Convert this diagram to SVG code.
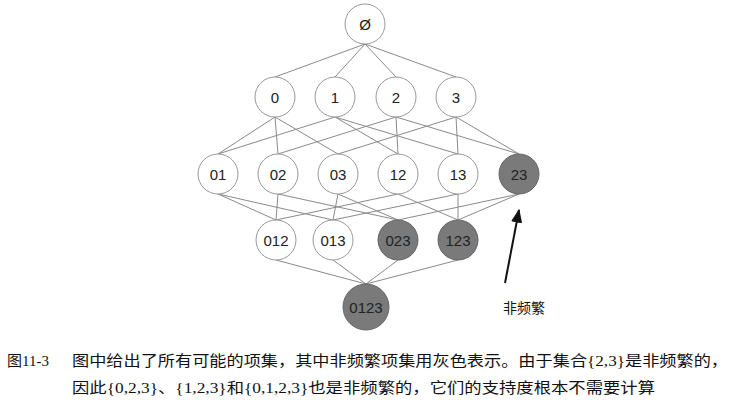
<svg xmlns="http://www.w3.org/2000/svg" width="737" height="414" viewBox="0 0 737 414">
<defs>
<style>
.n circle{fill:#fff;stroke:#999;stroke-width:1}
.g circle{fill:#7a7a7a;stroke:#666;stroke-width:1}
text.l{font-family:"Liberation Sans",Arial,sans-serif;font-size:15px;fill:#222;text-anchor:middle;dominant-baseline:central}
.e line{stroke:#8a8a8a;stroke-width:1}
.c{font-family:"Liberation Serif","Noto Sans CJK SC",serif;font-size:15px;fill:#111}
</style>
<marker id="ah" viewBox="0 0 10 10" refX="9" refY="5" markerWidth="7" markerHeight="7" orient="auto"><path d="M0,1 L10,5 L0,9 z" fill="#111"/></marker>
</defs>
<rect width="737" height="414" fill="#fff"/>
<g id="connectors" class="e">
<line x1="365" y1="44" x2="275" y2="77"/><line x1="365" y1="44" x2="335" y2="77"/><line x1="365" y1="44" x2="396" y2="77"/><line x1="365" y1="44" x2="456" y2="77"/>
<line x1="275" y1="117" x2="218" y2="154"/><line x1="275" y1="117" x2="278" y2="154"/><line x1="275" y1="117" x2="338" y2="154"/>
<line x1="335" y1="117" x2="218" y2="154"/><line x1="335" y1="117" x2="398" y2="154"/><line x1="335" y1="117" x2="458" y2="154"/>
<line x1="396" y1="117" x2="278" y2="154"/><line x1="396" y1="117" x2="398" y2="154"/><line x1="396" y1="117" x2="519" y2="154"/>
<line x1="456" y1="117" x2="338" y2="154"/><line x1="456" y1="117" x2="458" y2="154"/><line x1="456" y1="117" x2="519" y2="154"/>
<line x1="218" y1="194" x2="276" y2="220"/><line x1="278" y1="194" x2="276" y2="220"/><line x1="398" y1="194" x2="276" y2="220"/>
<line x1="218" y1="194" x2="333" y2="220"/><line x1="338" y1="194" x2="333" y2="220"/><line x1="458" y1="194" x2="333" y2="220"/>
<line x1="278" y1="194" x2="398" y2="220"/><line x1="338" y1="194" x2="398" y2="220"/><line x1="519" y1="194" x2="398" y2="220"/>
<line x1="398" y1="194" x2="458" y2="220"/><line x1="458" y1="194" x2="458" y2="220"/><line x1="519" y1="194" x2="458" y2="220"/>
<line x1="276" y1="260" x2="366" y2="284"/><line x1="333" y1="260" x2="366" y2="284"/><line x1="398" y1="260" x2="366" y2="284"/><line x1="458" y1="260" x2="366" y2="284"/>
<line x1="505" y1="283" x2="519" y2="210" style="stroke:#111;stroke-width:2" marker-end="url(#ah)"/>
</g>
<g id="n-empty" class="n"><circle cx="365" cy="24" r="20"/><text class="l" x="365" y="24">Ø</text></g>
<g id="n-0" class="n"><circle cx="275" cy="97" r="20"/><text class="l" x="275" y="97">0</text></g>
<g id="n-1" class="n"><circle cx="335" cy="97" r="20"/><text class="l" x="335" y="97">1</text></g>
<g id="n-2" class="n"><circle cx="396" cy="97" r="20"/><text class="l" x="396" y="97">2</text></g>
<g id="n-3" class="n"><circle cx="456" cy="97" r="20"/><text class="l" x="456" y="97">3</text></g>
<g id="n-01" class="n"><circle cx="218" cy="174" r="20"/><text class="l" x="218" y="174">01</text></g>
<g id="n-02" class="n"><circle cx="278" cy="174" r="20"/><text class="l" x="278" y="174">02</text></g>
<g id="n-03" class="n"><circle cx="338" cy="174" r="20"/><text class="l" x="338" y="174">03</text></g>
<g id="n-12" class="n"><circle cx="398" cy="174" r="20"/><text class="l" x="398" y="174">12</text></g>
<g id="n-13" class="n"><circle cx="458" cy="174" r="20"/><text class="l" x="458" y="174">13</text></g>
<g id="n-23" class="g"><circle cx="519" cy="174" r="20"/><text class="l" x="519" y="174">23</text></g>
<g id="n-012" class="n"><circle cx="276" cy="240" r="20"/><text class="l" x="276" y="240">012</text></g>
<g id="n-013" class="n"><circle cx="333" cy="240" r="20"/><text class="l" x="333" y="240">013</text></g>
<g id="n-023" class="g"><circle cx="398" cy="240" r="20"/><text class="l" x="398" y="240">023</text></g>
<g id="n-123" class="g"><circle cx="458" cy="240" r="20"/><text class="l" x="458" y="240">123</text></g>
<g id="n-0123" class="g"><circle cx="366" cy="307" r="23"/><text class="l" x="366" y="307">0123</text></g>
<text class="c" x="503" y="313" style="font-size:14px">非频繁</text>
<text class="c" x="7" y="366">图11-3</text>
<text class="c" x="72" y="366" textLength="656" lengthAdjust="spacingAndGlyphs">图中给出了所有可能的项集，其中非频繁项集用灰色表示。由于集合{2,3}是非频繁的，</text>
<text class="c" x="72" y="393" textLength="583" lengthAdjust="spacingAndGlyphs">因此{0,2,3}、{1,2,3}和{0,1,2,3}也是非频繁的，它们的支持度根本不需要计算</text>
</svg>
